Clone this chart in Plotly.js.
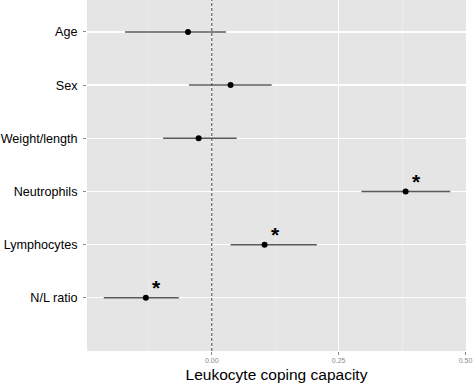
<!DOCTYPE html>
<html>
<head>
<meta charset="utf-8">
<script src="https://cdn.plot.ly/plotly-3.0.1.min.js"></script>
<style>html,body{margin:0;padding:0;background:#fff;}#chart{width:474px;height:383px;}</style>
</head>
<body>
<div id="chart"></div>
<script>
const categories = ["Age", "Sex", "Weight/length", "Neutrophils", "Lymphocytes", "N/L ratio"];
const estimate = [-0.047, 0.037, -0.026, 0.382, 0.104, -0.130];
const lower    = [-0.171, -0.045, -0.096, 0.295, 0.037, -0.213];
const upper    = [0.028, 0.118, 0.049, 0.470, 0.207, -0.065];
const significant = [false, false, false, true, true, true];
const xTickVals = [0, 0.25, 0.5];
const xTickText = ["0.00", "0.25", "0.50"];
const refLine = 0;

const errPlus = upper.map((u, i) => u - estimate[i]);
const errMinus = estimate.map((e, i) => e - lower[i]);

const trace = {
  type: "scatter",
  mode: "markers",
  x: estimate,
  y: categories,
  marker: {color: "#000", size: 6},
  error_x: {type: "data", symmetric: false, array: errPlus, arrayminus: errMinus,
            color: "#5a5a5a", thickness: 1.5, width: 0},
  hoverinfo: "skip",
  showlegend: false
};

const annotations = [];
significant.forEach((s, i) => {
  if (s) annotations.push({
    x: estimate[i], y: categories[i], xref: "x", yref: "y",
    text: "<b>*</b>", showarrow: false, xshift: 11, yshift: 10,
    font: {family: "Liberation Sans, Arial, sans-serif", size: 21, color: "#000"}
  });
});

const layout = {
  width: 474, height: 383,
  margin: {l: 87, r: 8, t: 0, b: 32},
  paper_bgcolor: "#fff",
  plot_bgcolor: "#e5e5e5",
  font: {family: "Liberation Sans, Arial, sans-serif", color: "#000"},
  xaxis: {
    range: [-0.246, 0.501],
    tickvals: xTickVals, ticktext: xTickText,
    showgrid: true, gridcolor: "#ffffff", gridwidth: 1,
    minor: {tickvals: [-0.125, 0.125, 0.375], showgrid: true, gridcolor: "#f0f0f0", gridwidth: 0.6, ticklen: 0},
    zeroline: false, showline: false,
    ticks: "outside", ticklen: 3, tickcolor: "#888", tickwidth: 1,
    tickfont: {size: 7, color: "#888"},
    title: {text: "Leukocyte coping capacity", font: {size: 15.5, color: "#000"}, standoff: 5}
  },
  yaxis: {
    type: "category",
    categoryorder: "array", categoryarray: categories,
    range: [6.0, -0.6],
    showgrid: true, gridcolor: "#ffffff", gridwidth: 1.2,
    zeroline: false, showline: false,
    ticks: "outside", ticklen: 3, tickcolor: "#888", tickwidth: 1,
    ticklabelstandoff: 3,
    tickfont: {size: 12.6, color: "#000"}
  },
  shapes: [{
    type: "line", xref: "x", yref: "paper", x0: refLine, x1: refLine, y0: 0, y1: 1,
    line: {color: "#444", width: 1, dash: "3px,2px"}
  }],
  annotations: annotations
};

Plotly.newPlot("chart", [trace], layout, {displayModeBar: false, staticPlot: true});
</script>
</body>
</html>
